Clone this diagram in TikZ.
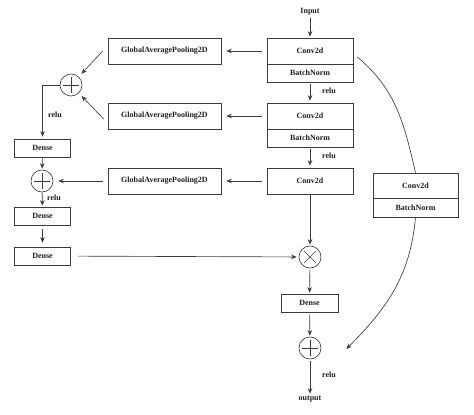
\documentclass[tikz,border=0pt]{standalone}
\usepackage{fontspec}
\setmainfont{Liberation Serif}
\usetikzlibrary{arrows.meta}
\definecolor{lc}{HTML}{3A3A3A}
\definecolor{tc}{HTML}{1E1E1E}
\begin{document}
\begin{tikzpicture}[x=1pt,y=-1pt,
  lbl/.style={font=\fontsize{8}{9}\selectfont\bfseries, text=tc, inner sep=0pt},
  box/.style={draw=lc, line width=0.65pt, inner sep=0pt, font=\fontsize{8}{9}\selectfont\bfseries, text=tc},
  arr/.style={draw=lc, line width=0.65pt, -{Stealth[length=5.5pt,width=4.5pt]}},
  lin/.style={draw=lc, line width=0.65pt},
  opplus/.style={circle, draw=lc, line width=0.65pt, minimum size=22pt, inner sep=0pt,
    path picture={\draw[lc,line width=0.65pt]
      ([xshift=-8pt]path picture bounding box.center) -- ([xshift=8pt]path picture bounding box.center)
      ([yshift=-8pt]path picture bounding box.center) -- ([yshift=8pt]path picture bounding box.center);}},
  optimes/.style={circle, draw=lc, line width=0.65pt, minimum size=22pt, inner sep=0pt,
    path picture={\draw[lc,line width=0.65pt]
      ([xshift=-6pt,yshift=-6pt]path picture bounding box.center) -- ([xshift=6pt,yshift=6pt]path picture bounding box.center)
      ([xshift=-6pt,yshift=6pt]path picture bounding box.center) -- ([xshift=6pt,yshift=-6pt]path picture bounding box.center);}}
]
\useasboundingbox (0,0) rectangle (474,415);
% main column
\node[lbl] (in) at (310,12) {Input};
\node[box, minimum width=86, minimum height=26] (c1) at (310,51) {Conv2d};
\node[box, minimum width=86, minimum height=18] (b1) at (310,73) {BatchNorm};
\node[box, minimum width=86, minimum height=26] (c2) at (310,116) {Conv2d};
\node[box, minimum width=86, minimum height=18] (b2) at (310,138) {BatchNorm};
\node[box, minimum width=86, minimum height=26] (c3) at (310,181) {Conv2d};
% right residual box
\node[box, minimum width=85, minimum height=25] (rc) at (415.5,185.5) {Conv2d};
\node[box, minimum width=85, minimum height=19] (rb) at (415.5,207.5) {BatchNorm};
% pooling boxes
\node[box, minimum width=113, minimum height=26] (g1) at (164.5,51) {GlobalAveragePooling2D};
\node[box, minimum width=113, minimum height=26] (g2) at (164.5,116) {GlobalAveragePooling2D};
\node[box, minimum width=113, minimum height=26] (g3) at (164.5,181) {GlobalAveragePooling2D};
% left branch
\node[opplus] (p1) at (71,85) {};
\node[box, minimum width=56, minimum height=18] (d1) at (42.5,148) {Dense};
\node[opplus] (p2) at (42,181) {};
\node[box, minimum width=56, minimum height=18] (d2) at (42.5,216) {Dense};
\node[box, minimum width=56, minimum height=18] (d3) at (42.5,256) {Dense};
% merge
\node[optimes] (tm) at (310,257) {};
\node[box, minimum width=57, minimum height=18] (d4) at (309.5,303) {Dense};
\node[opplus] (p3) at (310,348) {};
\node[lbl] (out) at (310,399) {output};
% labels
\node[lbl] (r1) at (329,91) {relu};
\node[lbl] (r2) at (329,156) {relu};
\node[lbl] (r3) at (55,115) {relu};
\node[lbl] (r4) at (54,198) {relu};
\node[lbl] (r5) at (329,375) {relu};
% connectors main column
\draw[arr, shorten <=2pt, shorten >=1pt] (in) -- (c1);
\draw[arr, shorten <=2pt, shorten >=2pt] (b1) -- (c2);
\draw[arr, shorten <=2pt, shorten >=2pt] (b2) -- (c3);
\draw[arr, shorten >=1pt] (c3) -- (tm);
\draw[arr, shorten <=1pt, shorten >=1pt] (tm) -- (d4);
\draw[arr, shorten <=2pt, shorten >=1pt] (d4) -- (p3);
\draw[arr, shorten <=2pt, shorten >=2pt] (p3) -- (out);
% to pooling
\draw[arr, shorten <=5pt, shorten >=5pt] (c1) -- (g1);
\draw[arr, shorten <=5pt, shorten >=5pt] (c2) -- (g2);
\draw[arr, shorten <=5pt, shorten >=5pt] (c3) -- (g3);
% pooling to adders
\draw[arr, shorten >=4pt] ([xshift=-5pt]g1.west) -- (p1);
\draw[arr, shorten >=4pt] ([xshift=-4pt,yshift=-3pt]g2.west) -- (p1);
\draw[arr, shorten >=5pt] ([xshift=-5pt]g3.west) -- (p2);
% left chain
\draw[arr, shorten >=2pt] (p1.west) -| (d1.north);
\draw[arr, shorten >=1pt] (d1) -- (p2);
\draw[arr, shorten >=1pt] (p2) -- (d2);
\draw[arr, shorten <=4pt, shorten >=4pt] (d2) -- (d3);
\draw[arr, shorten <=7pt, shorten >=2pt] (d3) -- (tm);
% residual curves
\draw[lin] ([xshift=4pt,yshift=-6pt]c1.east) to[out=-40,in=103] (rc.north);
\draw[arr] (rb.south) to[out=-95,in=45] ([xshift=25pt,yshift=-1pt]p3.east);
\end{tikzpicture}
\end{document}
